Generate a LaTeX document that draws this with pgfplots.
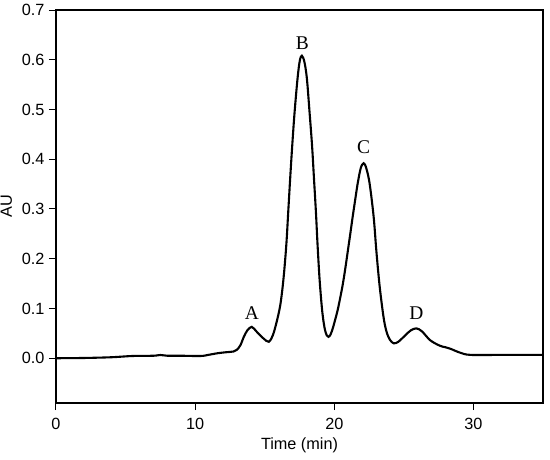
\documentclass[border=0pt]{standalone}
\usepackage{fontspec}
\setmainfont{Liberation Sans}
\newfontfamily\seriffont{Liberation Serif}
\usepackage{pgfplots}
\pgfplotsset{compat=1.18}
\begin{document}
\begin{tikzpicture}
\path[use as bounding box] (-56bp,-57bp) rectangle (494bp,403bp);
\begin{axis}[
  at={(0,0)}, anchor=south west,
  scale only axis, width=487bp, height=393bp,
  xmin=0, xmax=35, ymin=-0.09, ymax=0.7,
  xtick={0,10,20,30}, ytick={0,0.1,0.2,0.3,0.4,0.5,0.6,0.7},
  tick align=outside, tick pos=left,
  major tick length=7bp,
  axis line style={line width=1.1bp},
  every tick/.style={black, line width=1bp},
  /pgf/number format/assume math mode=true,
  yticklabel style={/pgf/number format/fixed, /pgf/number format/fixed zerofill, /pgf/number format/precision=1, xshift=-1bp},
  xticklabel style={/pgf/number format/fixed, yshift=-5bp},
  tick label style={font={\fontsize{16.3}{19}\selectfont}},
  label style={font={\fontsize{16.3}{19}\selectfont}},
  xlabel={Time (min)},
  ylabel={AU},
  xlabel style={at={(axis description cs:0.5,0)}, anchor=center, yshift=-42bp},
  ylabel style={at={(axis description cs:-0.102,0.5)}, anchor=center},
  clip=false,
]
\addplot[black, line width=2.1bp, smooth, tension=0.55] coordinates {
(0,0) (2,0.0005) (4,0.002) (5.5,0.0045) (7,0.005) (7.5,0.0065) (8,0.005) (9,0.005)
(10.4,0.0045) (11,0.007) (11.6,0.010) (12.2,0.012) (12.75,0.0135) (13.0,0.017)
(13.25,0.026) (13.5,0.043) (13.75,0.056) (14.07,0.063) (14.4,0.054) (14.9,0.040)
(15.3,0.033) (15.58,0.046) (15.83,0.07) (16.12,0.107) (16.35,0.16) (16.55,0.227)
(16.69,0.294) (16.83,0.3615) (16.98,0.4285) (17.15,0.4955) (17.36,0.5625)
(17.52,0.598) (17.67,0.608) (17.85,0.596) (18.03,0.5625) (18.22,0.4955)
(18.40,0.4285) (18.54,0.3615) (18.68,0.294) (18.80,0.227) (18.94,0.160)
(19.1,0.104) (19.22,0.075) (19.34,0.056) (19.46,0.046) (19.58,0.043) (19.72,0.047)
(19.88,0.059) (20.05,0.076) (20.24,0.0965) (20.43,0.122) (20.62,0.150)
(20.8,0.182) (20.98,0.217) (21.15,0.25) (21.32,0.284) (21.5,0.318) (21.68,0.351)
(21.9,0.382) (22.11,0.392) (22.3,0.382) (22.54,0.351) (22.83,0.284) (23.02,0.217)
(23.24,0.150) (23.47,0.0965) (23.63,0.068) (23.79,0.05) (24.0,0.037) (24.27,0.030)
(24.6,0.033) (25.1,0.046) (25.5,0.056) (25.9,0.060) (26.3,0.054) (26.9,0.036)
(27.6,0.025) (28.0,0.022) (28.35,0.019) (29.06,0.011) (29.8,0.0067) (32,0.0067)
(35,0.0067)
};
\node[font=\seriffont\fontsize{19.5}{22}\selectfont] at (axis cs:14.07,0.091) {A};
\node[font=\seriffont\fontsize{19.5}{22}\selectfont] at (axis cs:17.7,0.634) {B};
\node[font=\seriffont\fontsize{19.5}{22}\selectfont] at (axis cs:22.1,0.425) {C};
\node[font=\seriffont\fontsize{19.5}{22}\selectfont] at (axis cs:25.9,0.091) {D};
\end{axis}
\end{tikzpicture}
\end{document}
